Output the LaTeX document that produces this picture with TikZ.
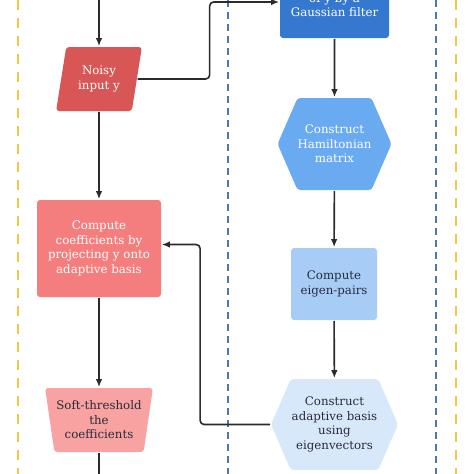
\documentclass[tikz,border=0pt]{standalone}
\usepackage{fontspec}
\setmainfont{DejaVu Serif}
\usetikzlibrary{shapes.geometric,shapes.symbols,arrows.meta,positioning}

\definecolor{NoisyRed}{HTML}{D95656}
\definecolor{CoefRed}{HTML}{F47D7D}
\definecolor{SoftRed}{HTML}{F8A2A2}
\definecolor{GaussBlue}{HTML}{3478D0}
\definecolor{HamBlue}{HTML}{6AAAF1}
\definecolor{EigBlue}{HTML}{A7CDF7}
\definecolor{BasisBlue}{HTML}{D7E8FB}
\definecolor{LaneYellow}{HTML}{F2C744}
\definecolor{LaneBlue}{HTML}{4F79AD}
\definecolor{LineGray}{HTML}{2B2B2B}
\definecolor{DarkText}{HTML}{2A2A3A}

\begin{document}
\begin{tikzpicture}[x=1pt,y=-1pt,->,>={Latex[length=8pt,width=6.5pt]},line width=1.6pt,
    shape node/.style={rounded corners=3pt,align=center,inner sep=0pt,font=\fontsize{11.8}{14.5}\selectfont},
    hexa node/.style={shape node,signal,signal to=east and west,signal pointer angle=133},
    lane/.style={-,line width=1.8pt}]

            \clip (0,0) rectangle (474,474);

            % swimlane borders
            \draw[lane, LaneYellow, dash pattern=on 10pt off 8pt] (18,0) -- (18,474);
            \draw[lane, LaneBlue, dash pattern=on 7pt off 5pt] (228,0) -- (228,474);
            \draw[lane, LaneBlue, dash pattern=on 7pt off 5pt] (436,0) -- (436,474);
            \draw[lane, LaneYellow, dash pattern=on 10pt off 8pt] (456,0) -- (456,474);

            \node[shape node, trapezium, trapezium left angle=76, trapezium right angle=104, trapezium stretches,
                  minimum width=86, minimum height=64, fill=NoisyRed, text=white] (1) at (99,79) {Noisy\\input y};
            \node[shape node, rectangle, minimum width=124, minimum height=97, fill=CoefRed, text=white] (2) at (99,248.5)
                 {Compute\\coefficients by\\projecting y onto\\adaptive basis};
            \node[shape node, trapezium, trapezium left angle=103.2, trapezium right angle=103.2, trapezium stretches,
                  minimum width=108, minimum height=64, fill=SoftRed, text=DarkText] (3) at (99,420) {Soft-threshold\\the\\coefficients};

            \node[shape node, rectangle, minimum width=109, minimum height=66, fill=GaussBlue, text=white] (4) at (334.5,5)
                 {of y by a\\Gaussian filter};
            \node[hexa node, minimum width=109, minimum height=92, fill=HamBlue, text=white] (5) at (334.5,144)
                 {Construct\\Hamiltonian\\matrix};
            \node[shape node, rectangle, minimum width=86, minimum height=72, fill=EigBlue, text=DarkText] (6) at (334,284)
                 {Compute\\eigen-pairs};
            \node[hexa node, minimum width=127, minimum height=91, fill=BasisBlue, text=DarkText] (7) at (334.5,424.5)
                 {Construct\\adaptive basis\\using\\eigenvectors};

            \coordinate (in) at (99,0);
            \coordinate (out) at (99,474);

            \path[LineGray]
                (in) edge (1)
                (1) edge (2)
                (2) edge (3)
                (3) edge[-] (out)
                (4) edge (5)
                (5) edge (6)
                (6) edge (7)
                ;
            \draw[LineGray, rounded corners=4pt] (1.east) -- ++(72,0) |- ([yshift=3pt]4.west);
            \draw[LineGray, rounded corners=4pt] (7.west) -- ++(-70,0) |- ([yshift=4pt]2.east);
        \end{tikzpicture}
\end{document}
